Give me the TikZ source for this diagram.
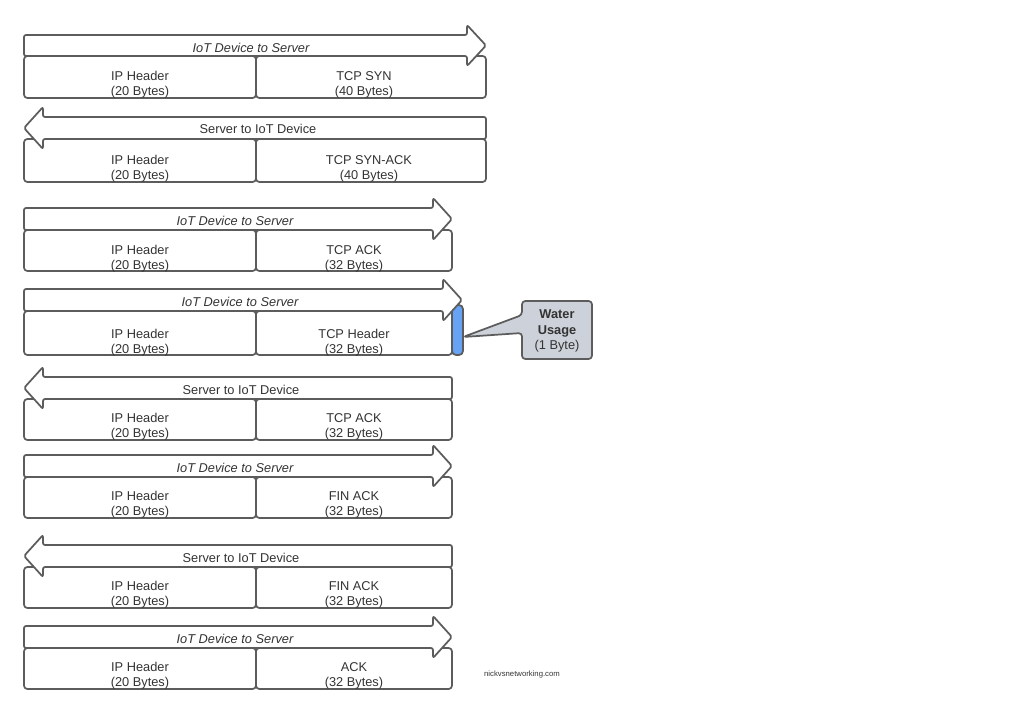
\documentclass[tikz,border=0pt]{standalone}
\usepackage{fontspec}
\setmainfont{Liberation Sans}
\definecolor{linec}{HTML}{5C5C5C}
\definecolor{textc}{HTML}{333333}
\definecolor{barblue}{RGB}{102,163,245}
\definecolor{callfill}{RGB}{205,209,217}
\tikzset{
  shp/.style={draw=linec, line width=1.3pt, line join=round},
  pbox/.style={shp, fill=white, rounded corners=2.5},
  parrow/.style={shp, fill=white, rounded corners=1.5},
  lbl/.style={text=textc, align=center, inner sep=0pt, font=\fontsize{9.6}{11.4}\selectfont},
  ttl/.style={lbl},
  ittl/.style={lbl, font=\fontsize{9.6}{11.4}\selectfont\itshape},
}
\begin{document}
\begin{tikzpicture}[x=0.75pt,y=-0.75pt]
\useasboundingbox (0,0) rectangle (1024,717);
\fill[white] (0,0) rectangle (1024,717);

% ---------- Row 1 ----------
\draw[pbox] (24,56) rectangle (256,98);
\draw[pbox] (256,56) rectangle (486,98);
\draw[parrow] (24,56) -- (24,35) -- (467,35) -- (467,25) -- (486,45.5) -- (467,66) -- (467,56) -- cycle;
\node[ittl] (t1) at (251,47.5) {IoT Device to Server};
\node[lbl] (l1) at (140,85) {IP Header\\(20 Bytes)};
\node[lbl] (r1) at (364,85) {TCP SYN\\(40 Bytes)};

% ---------- Row 2 ----------
\draw[pbox] (24,139) rectangle (256,182);
\draw[pbox] (256,139) rectangle (486,182);
\draw[parrow] (486,139) -- (486,117) -- (43,117) -- (43,107) -- (24,128) -- (43,149) -- (43,139) -- cycle;
\node[ttl] (t2) at (258,128.5) {Server to IoT Device};
\node[lbl] (l2) at (140,169) {IP Header\\(20 Bytes)};
\node[lbl] (r2) at (369,169) {TCP SYN-ACK\\(40 Bytes)};

% ---------- Row 3 ----------
\draw[pbox] (24,230) rectangle (256,271);
\draw[pbox] (256,230) rectangle (452,271);
\draw[parrow] (24,230) -- (24,208) -- (433,208) -- (433,198) -- (452,219) -- (433,240) -- (433,230) -- cycle;
\node[ittl] (t3) at (235,220.5) {IoT Device to Server};
\node[lbl] (l3) at (140,259) {IP Header\\(20 Bytes)};
\node[lbl] (r3) at (354,259) {TCP ACK\\(32 Bytes)};

% ---------- Row 4 ----------
\draw[pbox] (24,311) rectangle (256,355);
\draw[pbox] (256,311) rectangle (452,355);
\draw[shp, fill=barblue, rounded corners=3] (452,305) rectangle (463,355);
\coordinate (bar) at (463,337);
\draw[parrow] (24,311) -- (24,289) -- (443,289) -- (443,279) -- (462,300) -- (443,321) -- (443,311) -- cycle;
\node[ittl] (t4) at (240,301.5) {IoT Device to Server};
\node[lbl] (l4) at (140,343) {IP Header\\(20 Bytes)};
\node[lbl] (r4) at (354,343) {TCP Header\\(32 Bytes)};

% callout
\draw[shp, fill=callfill, rounded corners=2.5] (522,315) -- (bar) -- (522,333) -- (522,359) -- (592,359) -- (592,301) -- (522,301) -- cycle;
\node[lbl] (w) at (557,331) {\textbf{Water}\\\textbf{Usage}\\(1 Byte)};

% ---------- Row 5 ----------
\draw[pbox] (24,399) rectangle (256,440);
\draw[pbox] (256,399) rectangle (452,440);
\draw[parrow] (452,399) -- (452,377) -- (43,377) -- (43,367) -- (24,388) -- (43,409) -- (43,399) -- cycle;
\node[ttl] (t5) at (241,389.5) {Server to IoT Device};
\node[lbl] (l5) at (140,427) {IP Header\\(20 Bytes)};
\node[lbl] (r5) at (354,427) {TCP ACK\\(32 Bytes)};

% ---------- Row 6 ----------
\draw[pbox] (24,477) rectangle (256,518);
\draw[pbox] (256,477) rectangle (452,518);
\draw[parrow] (24,477) -- (24,455) -- (433,455) -- (433,445) -- (452,466) -- (433,487) -- (433,477) -- cycle;
\node[ittl] (t6) at (235,467.5) {IoT Device to Server};
\node[lbl] (l6) at (140,505) {IP Header\\(20 Bytes)};
\node[lbl] (r6) at (354,505) {FIN ACK\\(32 Bytes)};

% ---------- Row 7 ----------
\draw[pbox] (24,567) rectangle (256,608);
\draw[pbox] (256,567) rectangle (452,608);
\draw[parrow] (452,567) -- (452,545) -- (43,545) -- (43,535) -- (24,556) -- (43,577) -- (43,567) -- cycle;
\node[ttl] (t7) at (241,557.5) {Server to IoT Device};
\node[lbl] (l7) at (140,595) {IP Header\\(20 Bytes)};
\node[lbl] (r7) at (354,595) {FIN ACK\\(32 Bytes)};

% ---------- Row 8 ----------
\draw[pbox] (24,648) rectangle (256,689);
\draw[pbox] (256,648) rectangle (452,689);
\draw[parrow] (24,648) -- (24,626) -- (433,626) -- (433,616) -- (452,637) -- (433,658) -- (433,648) -- cycle;
\node[ittl] (t8) at (235,638.5) {IoT Device to Server};
\node[lbl] (l8) at (140,676) {IP Header\\(20 Bytes)};
\node[lbl] (r8) at (354,676) {ACK\\(32 Bytes)};

\node[text=textc, font=\fontsize{5.8}{7}\selectfont] (wm) at (522,674) {nickvsnetworking.com};
\end{tikzpicture}
\end{document}
